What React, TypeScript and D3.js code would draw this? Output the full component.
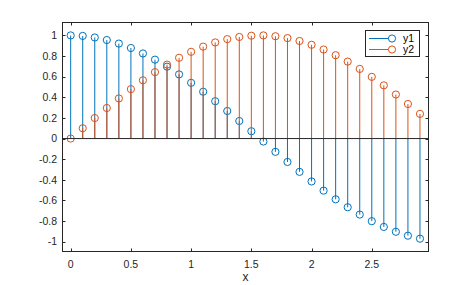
import React from "react";
import * as d3 from "d3";

const xValues = [0, 0.1, 0.2, 0.3, 0.4, 0.5, 0.6, 0.7, 0.8, 0.9, 1.0, 1.1, 1.2, 1.3, 1.4, 1.5, 1.6, 1.7, 1.8, 1.9, 2.0, 2.1, 2.2, 2.3, 2.4, 2.5, 2.6, 2.7, 2.8, 2.9];
const y1Values = [1, 0.995, 0.98, 0.955, 0.921, 0.878, 0.825, 0.765, 0.697, 0.622, 0.54, 0.454, 0.362, 0.267, 0.17, 0.071, -0.029, -0.129, -0.227, -0.323, -0.416, -0.505, -0.589, -0.666, -0.737, -0.801, -0.857, -0.904, -0.942, -0.971];
const y2Values = [0, 0.1, 0.199, 0.296, 0.389, 0.479, 0.565, 0.644, 0.717, 0.783, 0.841, 0.891, 0.932, 0.964, 0.985, 0.997, 1.0, 0.992, 0.974, 0.946, 0.909, 0.863, 0.808, 0.746, 0.675, 0.598, 0.516, 0.427, 0.335, 0.239];
const xTicks = [0, 0.5, 1, 1.5, 2, 2.5];
const yTicks = [-1, -0.8, -0.6, -0.4, -0.2, 0, 0.2, 0.4, 0.6, 0.8, 1];
const seriesNames = ["y1", "y2"];
const colors = ["#0072BD", "#D95319"];

export default function App() {
  const W = 474, H = 285;
  const left = 62, right = 429, top = 22, bottom = 252;
  const x = d3.scaleLinear().domain([-0.072, 2.975]).range([left, right]);
  const y = d3.scaleLinear().domain([-1.1, 1.13]).range([bottom, top]);
  const axisColor = "#262626";
  const font = "Liberation Sans, Arial, sans-serif";
  const series = [y1Values, y2Values];
  const tk = 3.5;
  const fmt = (v: number) => (v === 0 ? "0" : String(v));
  return (
    <svg width={W} height={H} style={{ position: "absolute", left: 0, top: 0 }}>
      <rect x={0} y={0} width={W} height={H} fill="#fff" />
      <rect x={left} y={top} width={right - left} height={bottom - top} fill="#fff" />
      {series.map((vals, si) => (
        <g key={si}>
          {vals.map((v, i) => (
            <g key={i}>
              <line x1={x(xValues[i])} x2={x(xValues[i])} y1={y(0)} y2={y(v)} stroke={colors[si]} strokeWidth={1} />
              <circle cx={x(xValues[i])} cy={y(v)} r={3.6} fill="none" stroke={colors[si]} strokeWidth={1} />
            </g>
          ))}
        </g>
      ))}
      <line x1={left} x2={right} y1={y(0)} y2={y(0)} stroke={axisColor} strokeWidth={1} />
      <rect x={left + 0.5} y={top + 0.5} width={right - left - 1} height={bottom - top - 1} fill="none" stroke={axisColor} strokeWidth={1} />
      {xTicks.map((t) => (
        <g key={"x" + t}>
          <line x1={Math.round(x(t)) + 0.5} x2={Math.round(x(t)) + 0.5} y1={bottom} y2={bottom - tk} stroke={axisColor} />
          <line x1={Math.round(x(t)) + 0.5} x2={Math.round(x(t)) + 0.5} y1={top} y2={top + tk} stroke={axisColor} />
          <text x={x(t)} y={bottom + 16} textAnchor="middle" fontSize={10.5} fontFamily={font} fill={axisColor}>{fmt(t)}</text>
        </g>
      ))}
      {yTicks.map((t) => (
        <g key={"y" + t}>
          <line x1={left} x2={left + tk} y1={Math.round(y(t)) + 0.5} y2={Math.round(y(t)) + 0.5} stroke={axisColor} />
          <line x1={right} x2={right - tk} y1={Math.round(y(t)) + 0.5} y2={Math.round(y(t)) + 0.5} stroke={axisColor} />
          <text x={left - 5} y={y(t) + 3.8} textAnchor="end" fontSize={10.5} fontFamily={font} fill={axisColor}>{fmt(t)}</text>
        </g>
      ))}
      <text x={(left + right) / 2} y={bottom + 29} textAnchor="middle" fontSize={12} fontFamily={font} fill={axisColor}>x</text>
      <rect x={365.5} y={30.5} width={54} height={26} fill="#fff" stroke={axisColor} strokeWidth={1} />
      {seriesNames.map((n, i) => (
        <g key={n}>
          <line x1={369} x2={392} y1={38.5 + i * 11} y2={38.5 + i * 11} stroke={colors[i]} strokeWidth={1} />
          <circle cx={392} cy={38.5 + i * 11} r={3.6} fill="#fff" stroke={colors[i]} strokeWidth={1} />
          <text x={403} y={42 + i * 11} fontSize={10.5} fontFamily={font} fill="#000">{n}</text>
        </g>
      ))}
    </svg>
  );
}
